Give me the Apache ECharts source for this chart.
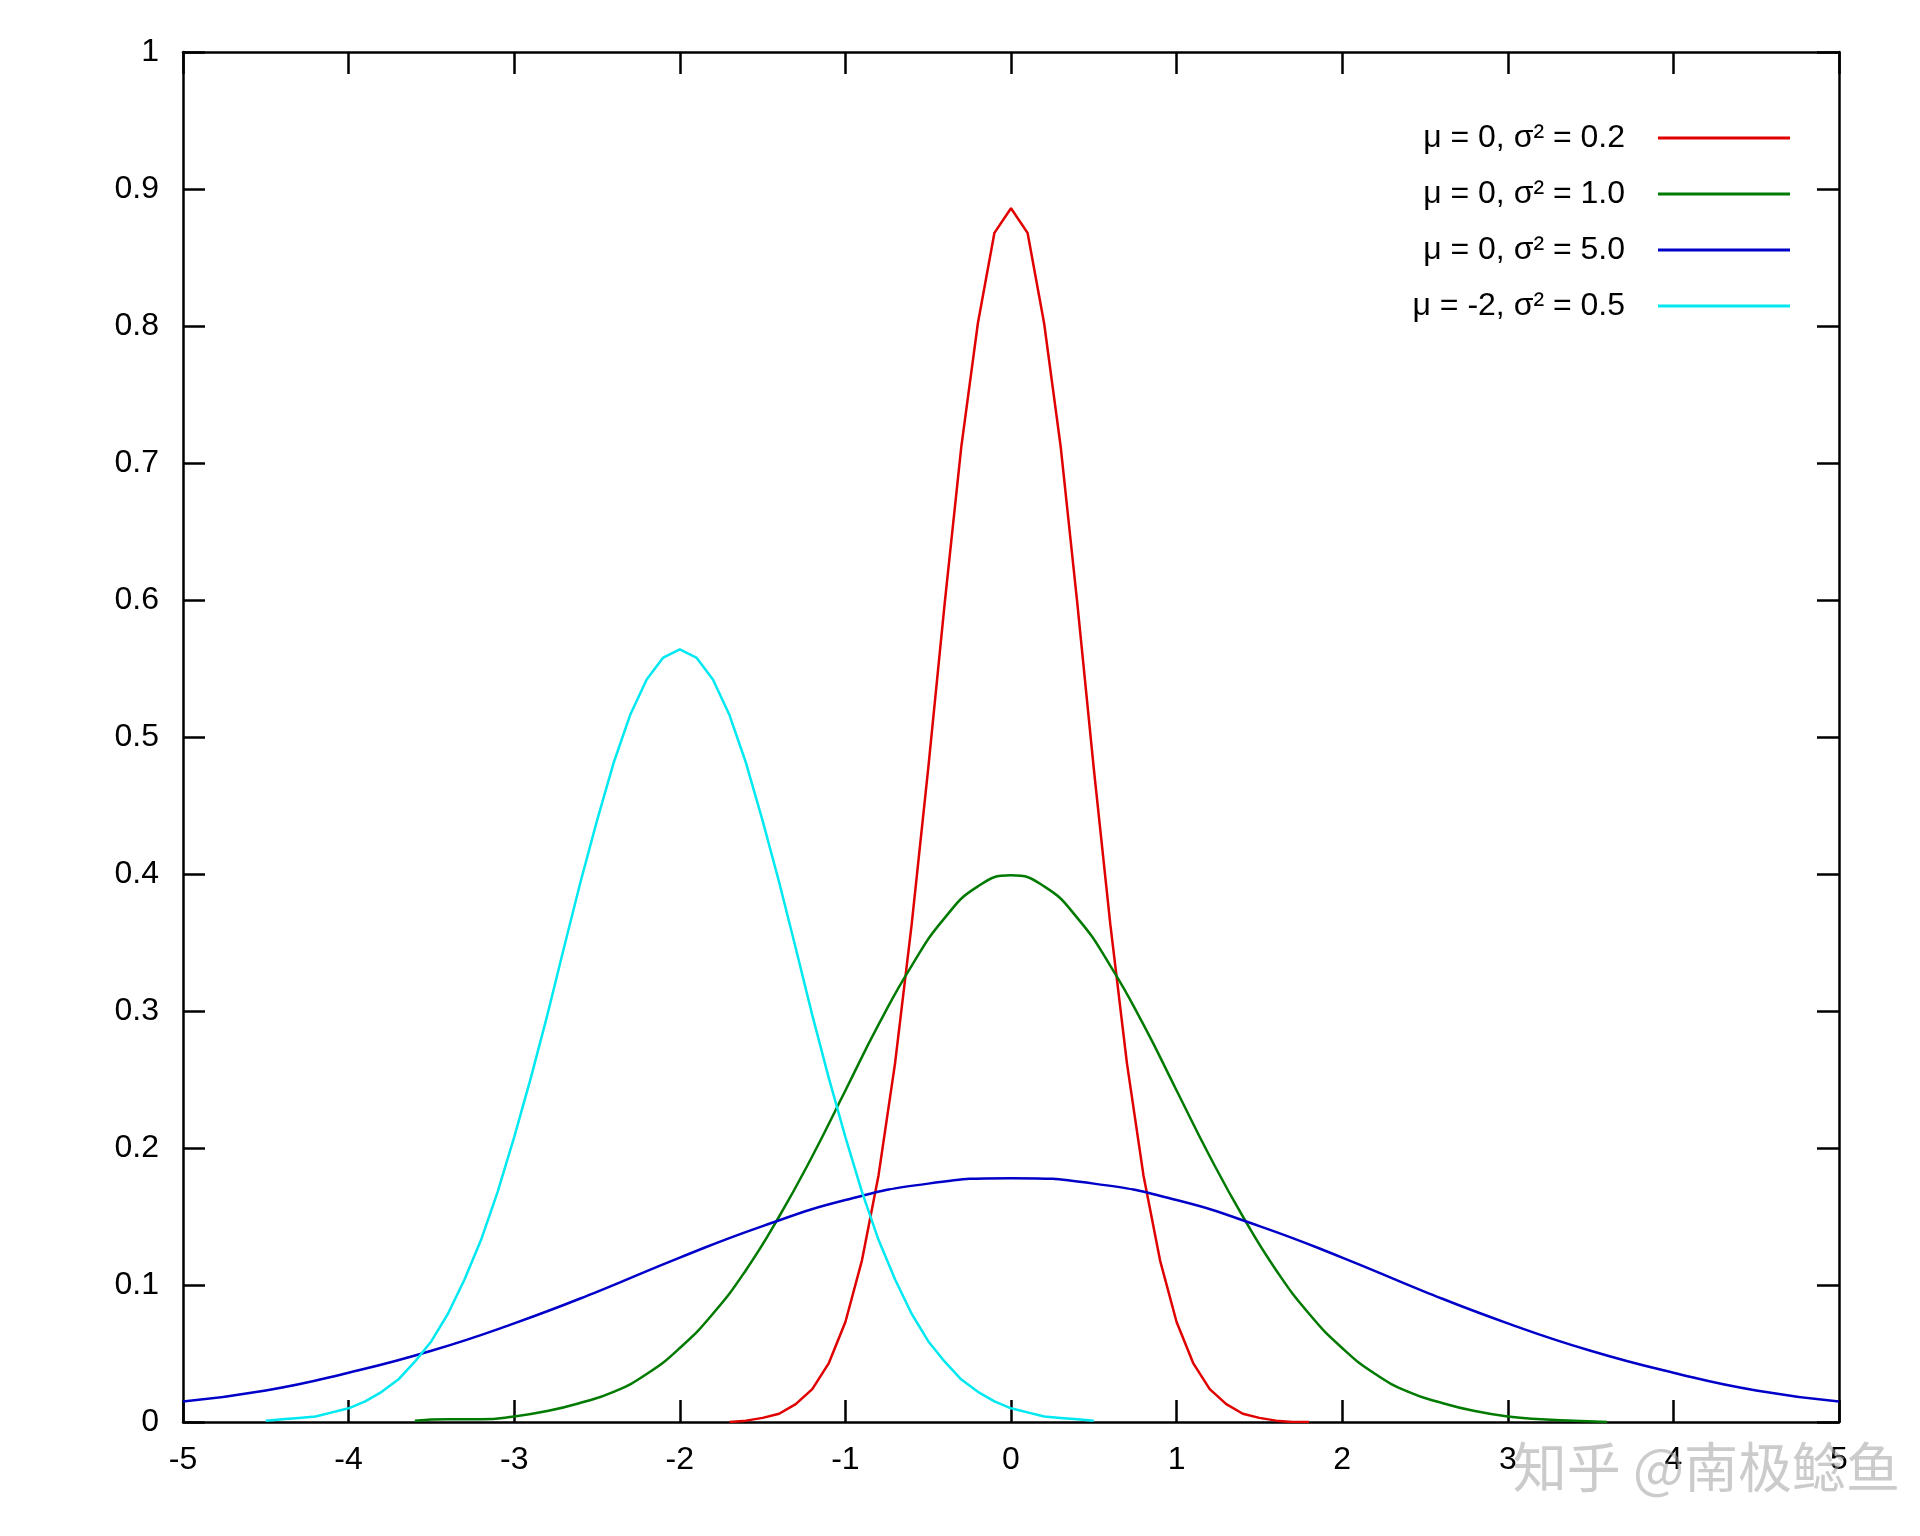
<!DOCTYPE html>
<html><head><meta charset="utf-8">
<script src="https://cdn.jsdelivr.net/npm/echarts@6/dist/echarts.min.js"></script>
<style>html,body{margin:0;background:#fff}#c{width:1920px;height:1536px}</style>
</head><body><div id="c"></div>
<script>
// sample positions for each curve
var redX0 = -1.7, redStep = 0.1;
var red = [0, 0.001, 0.003, 0.006, 0.013, 0.024, 0.043, 0.073, 0.118, 0.180, 0.262, 0.363, 0.477, 0.598, 0.712, 0.802, 0.868, 0.886,
  0.868, 0.802, 0.712, 0.598, 0.477, 0.363, 0.262, 0.180, 0.118, 0.073, 0.043, 0.024, 0.013, 0.006, 0.003, 0.001, 0, 0];
var greenX0 = -3.6, greenStep = 0.2;
var green = [0.001, 0.002, 0.002, 0.004, 0.008, 0.014, 0.022, 0.035, 0.054, 0.079, 0.111, 0.150, 0.194, 0.242, 0.290, 0.333, 0.368, 0.391, 0.399,
  0.391, 0.368, 0.333, 0.290, 0.242, 0.194, 0.150, 0.111, 0.079, 0.054, 0.035, 0.022, 0.014, 0.008, 0.004, 0.002, 0.001, 0];
var blueX0 = -5, blueStep = 0.5;
var blue = [0.015, 0.023, 0.036, 0.052, 0.072, 0.095, 0.120, 0.143, 0.162, 0.174, 0.178,
  0.174, 0.162, 0.143, 0.120, 0.095, 0.072, 0.052, 0.036, 0.023, 0.015];
var cyanX0 = -4.5, cyanStep = 0.1;
var cyan = [0.001, 0.002, 0.003, 0.004, 0.007, 0.010, 0.015, 0.022, 0.031, 0.044, 0.059, 0.079, 0.104, 0.133, 0.168, 0.208, 0.251, 0.297, 0.346, 0.394, 0.439, 0.481, 0.516, 0.542, 0.558, 0.564,
  0.558, 0.542, 0.516, 0.481, 0.439, 0.394, 0.346, 0.297, 0.251, 0.208, 0.168, 0.133, 0.104, 0.079, 0.059, 0.044, 0.031, 0.022, 0.015, 0.010, 0.007, 0.004, 0.003, 0.002, 0.001];
var names = ['μ = 0, σ² = 0.2', 'μ = 0, σ² = 1.0', 'μ = 0, σ² = 5.0', 'μ = -2, σ² = 0.5'];
var colors = ['#e00000', '#007a00', '#0000c8', '#00e8f0'];

function pairs(x0, step, ys) {
  var out = [];
  for (var i = 0; i < ys.length; i++) out.push([+(x0 + i * step).toFixed(2), ys[i]]);
  return out;
}

var chart = echarts.init(document.getElementById('c'));
var font = 'Liberation Sans';
var tick = { inside: true, length: 22, lineStyle: { color: '#000', width: 2.5 } };
var line = { show: true, onZero: false, lineStyle: { color: '#000', width: 2.5 } };
chart.setOption({
  animation: false,
  textStyle: { fontFamily: font },
  grid: { left: 183, right: 81, top: 52, bottom: 114 },
  legend: {
    data: names, right: 125, top: 117, orient: 'vertical', align: 'right',
    itemGap: 24, itemWidth: 132, itemHeight: 3, icon: 'rect',
    textStyle: { fontSize: 32, color: '#000', fontFamily: font, padding: [0, 28, 0, 0] }
  },
  xAxis: [
    { type: 'value', min: -5, max: 5, interval: 1, axisLine: line, axisTick: tick, splitLine: { show: false },
      axisLabel: { fontSize: 32, color: '#000', margin: 22 } },
    { type: 'value', position: 'top', min: -5, max: 5, interval: 1, axisLine: line, axisTick: tick, splitLine: { show: false },
      axisLabel: { show: false } }
  ],
  yAxis: [
    { type: 'value', min: 0, max: 1, interval: 0.1, axisLine: line, axisTick: tick, splitLine: { show: false },
      axisLabel: { fontSize: 32, color: '#000', margin: 24 } },
    { type: 'value', position: 'right', min: 0, max: 1, interval: 0.1, axisLine: line, axisTick: tick, splitLine: { show: false },
      axisLabel: { show: false } }
  ],
  series: [
    { name: names[0], type: 'line', data: pairs(redX0, redStep, red) },
    { name: names[1], type: 'line', data: pairs(greenX0, greenStep, green), smooth: true },
    { name: names[2], type: 'line', data: pairs(blueX0, blueStep, blue), smooth: true },
    { name: names[3], type: 'line', data: pairs(cyanX0, cyanStep, cyan) }
  ].map(function (s, i) {
    s.showSymbol = false; s.color = colors[i]; s.lineStyle = { width: 2.5, color: colors[i] };
    s.clip = true;
    return s;
  }),
  graphic: [{ type: 'text', right: 20, top: 1440, z: 100,
    style: { text: '知乎 @南极鲶鱼', fontSize: 54, fill: 'rgba(160,160,160,0.55)', fontFamily: 'Noto Sans CJK SC' } }]
});
</script></body></html>
